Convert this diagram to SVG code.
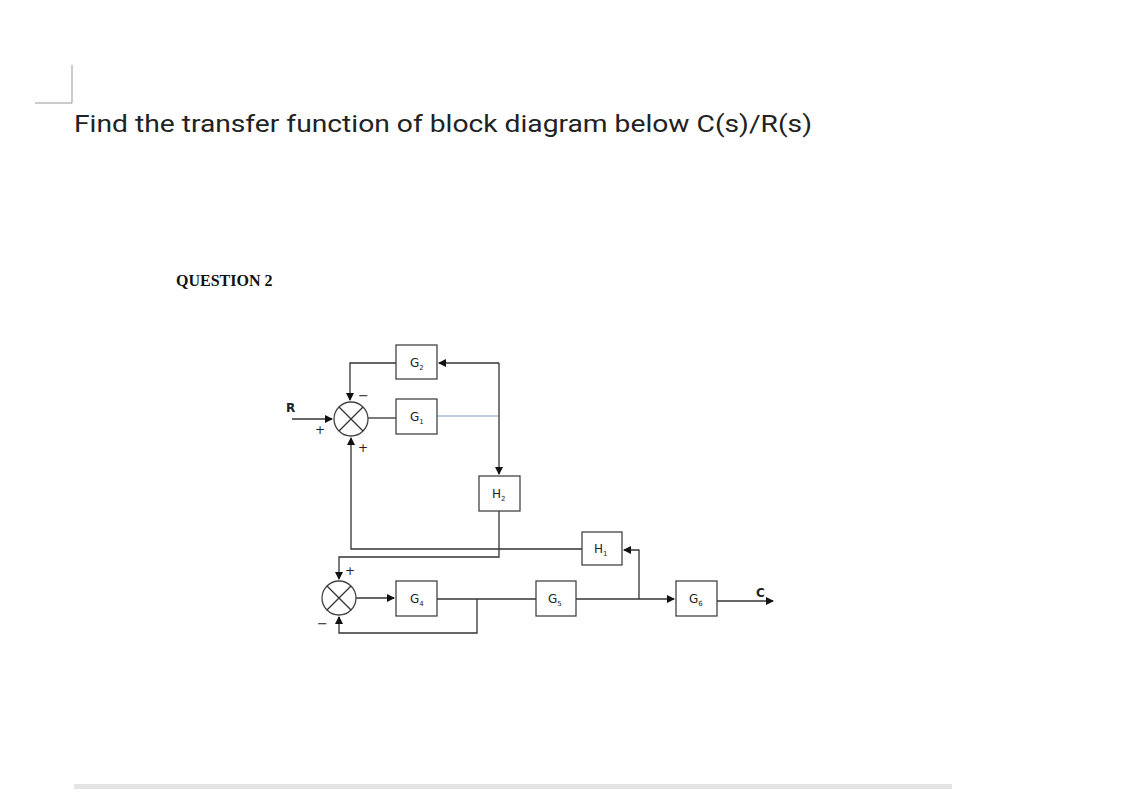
<svg xmlns="http://www.w3.org/2000/svg" width="1126" height="797" viewBox="0 0 1126 797">
<style>
.b{fill:#fff;stroke:#444;stroke-width:1.3}
.l{fill:none;stroke:#333;stroke-width:1.3}
.t{font-family:"DejaVu Sans",sans-serif;font-size:12px;fill:#222}
.s{font-size:7px}
</style>
<defs><marker id="a" markerWidth="8" markerHeight="8" refX="7" refY="4" orient="auto" markerUnits="userSpaceOnUse"><path d="M0,0L8,4L0,8Z" fill="#111"/></marker></defs>
<rect width="1126" height="797" fill="#fff"/>
<path d="M35,103H72V65" fill="none" stroke="#999" stroke-width="1"/>
<text x="74" y="132" font-family="Roboto,sans-serif" font-size="24" fill="#222" textLength="738" lengthAdjust="spacingAndGlyphs">Find the transfer function of block diagram below C(s)/R(s)</text>
<text x="176" y="286" font-family="Liberation Serif,serif" font-weight="bold" font-size="16" fill="#111">QUESTION 2</text>
<rect x="74" y="784" width="878" height="5" fill="#e4e4e4"/>
<g id="connectors">
<path class="l" d="M292,419H332" marker-end="url(#a)"/>
<path class="l" d="M499,363H439" marker-end="url(#a)"/>
<path class="l" d="M396,363H350V400" marker-end="url(#a)"/>
<path class="l" d="M368,418H396"/>
<path d="M437,416H499" stroke="#7aa0c8" stroke-width="1.2"/>
<path class="l" d="M499,363V474" marker-end="url(#a)"/>
<path class="l" d="M583,549H351V438" marker-end="url(#a)"/>
<path class="l" d="M499,511V557H339V579" marker-end="url(#a)"/>
<path class="l" d="M356,598H394" marker-end="url(#a)"/>
<path class="l" d="M437,599H536"/>
<path class="l" d="M477,599V633H339V617" marker-end="url(#a)"/>
<path class="l" d="M576,599H674" marker-end="url(#a)"/>
<path class="l" d="M639,599V550H624" marker-end="url(#a)"/>
<path class="l" d="M717,601H773" marker-end="url(#a)"/>
</g>
<g id="sum1"><circle class="b" cx="351" cy="419" r="17"/><path class="l" d="M339,407L363,431M363,407L339,431"/></g>
<g id="sum2"><circle class="b" cx="339" cy="598" r="17"/><path class="l" d="M327,586L351,610M351,586L327,610"/></g>
<g id="G2"><rect class="b" x="396" y="345" width="41" height="34"/><text class="t" x="410" y="367">G<tspan class="s" dy="3">2</tspan></text></g>
<g id="G1"><rect class="b" x="396" y="399" width="41" height="35"/><text class="t" x="410" y="421">G<tspan class="s" dy="3">1</tspan></text></g>
<g id="H2"><rect class="b" x="479" y="476" width="41" height="35"/><text class="t" x="492" y="498">H<tspan class="s" dy="3">2</tspan></text></g>
<g id="H1"><rect class="b" x="582" y="532" width="40" height="33"/><text class="t" x="594" y="553">H<tspan class="s" dy="3">1</tspan></text></g>
<g id="G4"><rect class="b" x="396" y="581" width="41" height="35"/><text class="t" x="410" y="603">G<tspan class="s" dy="3">4</tspan></text></g>
<g id="G5"><rect class="b" x="536" y="581" width="40" height="35"/><text class="t" x="548" y="603">G<tspan class="s" dy="3">5</tspan></text></g>
<g id="G6"><rect class="b" x="676" y="581" width="41" height="35"/><text class="t" x="689" y="603">G<tspan class="s" dy="3">6</tspan></text></g>
<g id="labels" font-family="DejaVu Sans,sans-serif" fill="#222">
<text x="286" y="412" font-size="12" font-weight="bold">R</text>
<text x="756" y="597" font-size="12" font-weight="bold">C</text>
<text x="315" y="434" font-size="12">+</text>
<text x="358" y="452" font-size="12">+</text>
<text x="358" y="400" font-size="13">−</text>
<text x="345" y="575" font-size="12">+</text>
<text x="317" y="628" font-size="13">−</text>
</g>
</svg>
